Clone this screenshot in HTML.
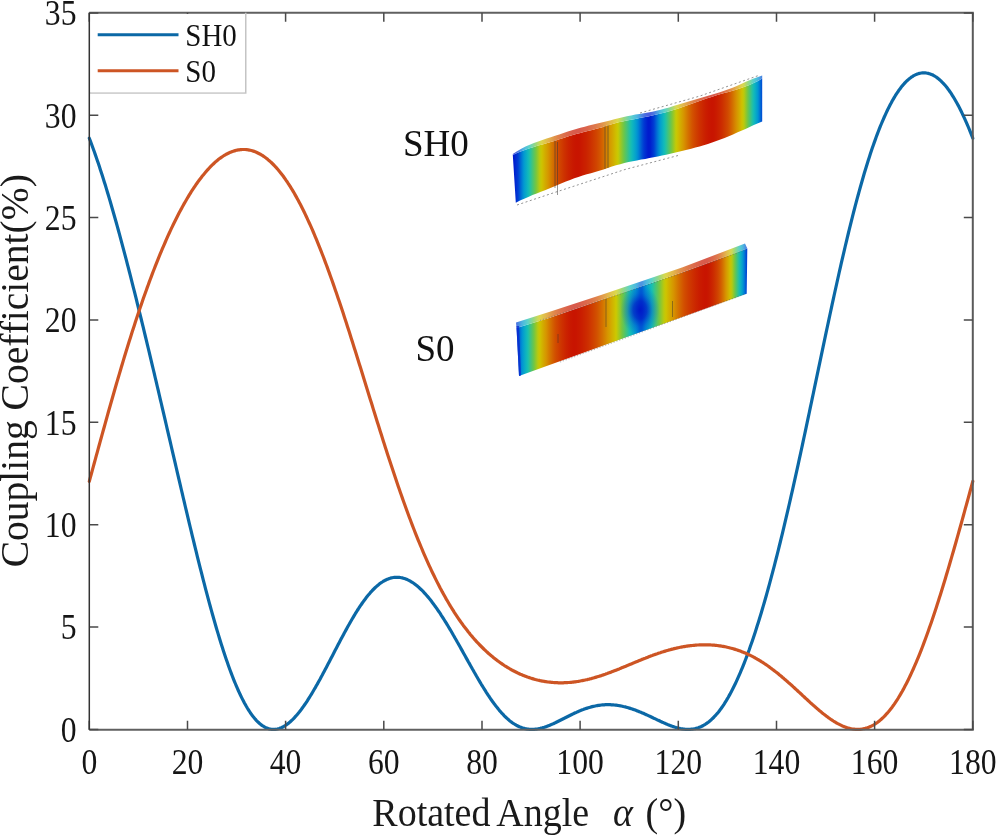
<!DOCTYPE html>
<html><head><meta charset="utf-8"><style>
html,body{margin:0;padding:0;background:#fff;width:997px;height:836px;overflow:hidden;position:relative;font-family:"Liberation Serif",serif}
svg{will-change:transform}
</style></head><body>
<svg width="997" height="836" viewBox="0 0 997 836" style="position:absolute;left:0;top:0">
<rect width="997" height="836" fill="#fff"/>
<defs>
<linearGradient id="gsh0" gradientUnits="userSpaceOnUse" x1="512.0" y1="0" x2="763.0" y2="0"><stop offset="0.0000" stop-color="#0014cd"/><stop offset="0.0080" stop-color="#001cce"/><stop offset="0.0159" stop-color="#002dd1"/><stop offset="0.0239" stop-color="#003dd4"/><stop offset="0.0319" stop-color="#005ed4"/><stop offset="0.0398" stop-color="#007ed4"/><stop offset="0.0478" stop-color="#029ad1"/><stop offset="0.0558" stop-color="#09a9c6"/><stop offset="0.0637" stop-color="#10b8bc"/><stop offset="0.0717" stop-color="#22c1a5"/><stop offset="0.0797" stop-color="#3ec382"/><stop offset="0.0876" stop-color="#5ac55f"/><stop offset="0.0956" stop-color="#77c63f"/><stop offset="0.1036" stop-color="#9bc825"/><stop offset="0.1116" stop-color="#bec90b"/><stop offset="0.1195" stop-color="#cec200"/><stop offset="0.1275" stop-color="#d1b300"/><stop offset="0.1355" stop-color="#d3a500"/><stop offset="0.1434" stop-color="#d69700"/><stop offset="0.1514" stop-color="#d58700"/><stop offset="0.1594" stop-color="#d47700"/><stop offset="0.1673" stop-color="#d36800"/><stop offset="0.1753" stop-color="#d35a00"/><stop offset="0.1833" stop-color="#d24d00"/><stop offset="0.1912" stop-color="#d04400"/><stop offset="0.1992" stop-color="#cf3b00"/><stop offset="0.2072" stop-color="#cd3300"/><stop offset="0.2151" stop-color="#cc2c00"/><stop offset="0.2231" stop-color="#cb2500"/><stop offset="0.2311" stop-color="#ca2000"/><stop offset="0.2390" stop-color="#c91b00"/><stop offset="0.2470" stop-color="#c81700"/><stop offset="0.2550" stop-color="#c81500"/><stop offset="0.2629" stop-color="#c81400"/><stop offset="0.2709" stop-color="#c81600"/><stop offset="0.2789" stop-color="#c91a00"/><stop offset="0.2869" stop-color="#ca1e00"/><stop offset="0.2948" stop-color="#ca2200"/><stop offset="0.3028" stop-color="#cb2800"/><stop offset="0.3108" stop-color="#cc2e00"/><stop offset="0.3187" stop-color="#cd3500"/><stop offset="0.3267" stop-color="#cf3c00"/><stop offset="0.3347" stop-color="#d04300"/><stop offset="0.3426" stop-color="#d14c00"/><stop offset="0.3506" stop-color="#d25600"/><stop offset="0.3586" stop-color="#d36200"/><stop offset="0.3665" stop-color="#d46f00"/><stop offset="0.3745" stop-color="#d57d00"/><stop offset="0.3825" stop-color="#d58b00"/><stop offset="0.3904" stop-color="#d59900"/><stop offset="0.3984" stop-color="#d3a500"/><stop offset="0.4064" stop-color="#d1b200"/><stop offset="0.4143" stop-color="#cfbf00"/><stop offset="0.4223" stop-color="#c7ca04"/><stop offset="0.4303" stop-color="#a9c81b"/><stop offset="0.4382" stop-color="#89c732"/><stop offset="0.4462" stop-color="#6ac64b"/><stop offset="0.4542" stop-color="#52c469"/><stop offset="0.4622" stop-color="#39c287"/><stop offset="0.4701" stop-color="#20c1a7"/><stop offset="0.4781" stop-color="#11b9bb"/><stop offset="0.4861" stop-color="#0aacc5"/><stop offset="0.4940" stop-color="#049ece"/><stop offset="0.5020" stop-color="#008ad4"/><stop offset="0.5100" stop-color="#006ed4"/><stop offset="0.5179" stop-color="#0051d4"/><stop offset="0.5259" stop-color="#0038d3"/><stop offset="0.5339" stop-color="#002ad1"/><stop offset="0.5418" stop-color="#001bce"/><stop offset="0.5498" stop-color="#001cce"/><stop offset="0.5578" stop-color="#002dd1"/><stop offset="0.5657" stop-color="#003fd4"/><stop offset="0.5737" stop-color="#0060d4"/><stop offset="0.5817" stop-color="#0080d4"/><stop offset="0.5896" stop-color="#029bd0"/><stop offset="0.5976" stop-color="#0aabc5"/><stop offset="0.6056" stop-color="#11baba"/><stop offset="0.6135" stop-color="#26c1a0"/><stop offset="0.6215" stop-color="#42c37c"/><stop offset="0.6295" stop-color="#5ec55a"/><stop offset="0.6375" stop-color="#7ec73a"/><stop offset="0.6454" stop-color="#a2c820"/><stop offset="0.6534" stop-color="#c5ca06"/><stop offset="0.6614" stop-color="#cfbe00"/><stop offset="0.6693" stop-color="#d2af00"/><stop offset="0.6773" stop-color="#d4a100"/><stop offset="0.6853" stop-color="#d69200"/><stop offset="0.6932" stop-color="#d58200"/><stop offset="0.7012" stop-color="#d47200"/><stop offset="0.7092" stop-color="#d36300"/><stop offset="0.7171" stop-color="#d25500"/><stop offset="0.7251" stop-color="#d14a00"/><stop offset="0.7331" stop-color="#cf4100"/><stop offset="0.7410" stop-color="#ce3800"/><stop offset="0.7490" stop-color="#cd3000"/><stop offset="0.7570" stop-color="#cc2900"/><stop offset="0.7649" stop-color="#ca2300"/><stop offset="0.7729" stop-color="#ca1d00"/><stop offset="0.7809" stop-color="#c91900"/><stop offset="0.7888" stop-color="#c81600"/><stop offset="0.7968" stop-color="#c81400"/><stop offset="0.8048" stop-color="#c81600"/><stop offset="0.8127" stop-color="#c91a00"/><stop offset="0.8207" stop-color="#ca2000"/><stop offset="0.8287" stop-color="#cb2600"/><stop offset="0.8367" stop-color="#cc2e00"/><stop offset="0.8446" stop-color="#ce3700"/><stop offset="0.8526" stop-color="#cf4100"/><stop offset="0.8606" stop-color="#d14b00"/><stop offset="0.8685" stop-color="#d35900"/><stop offset="0.8765" stop-color="#d36a00"/><stop offset="0.8845" stop-color="#d47c00"/><stop offset="0.8924" stop-color="#d68e00"/><stop offset="0.9004" stop-color="#d49f00"/><stop offset="0.9084" stop-color="#d2b000"/><stop offset="0.9163" stop-color="#cfc100"/><stop offset="0.9243" stop-color="#bac90e"/><stop offset="0.9323" stop-color="#91c72c"/><stop offset="0.9402" stop-color="#69c64d"/><stop offset="0.9482" stop-color="#49c474"/><stop offset="0.9562" stop-color="#28c19d"/><stop offset="0.9641" stop-color="#11b9bb"/><stop offset="0.9721" stop-color="#08a8c7"/><stop offset="0.9801" stop-color="#0095d4"/><stop offset="0.9880" stop-color="#0070d4"/><stop offset="0.9960" stop-color="#004bd4"/></linearGradient>
<linearGradient id="gsh0t" gradientUnits="userSpaceOnUse" x1="512.0" y1="0" x2="763.0" y2="0"><stop offset="0.0000" stop-color="#4c5adc"/><stop offset="0.0080" stop-color="#4c60dd"/><stop offset="0.0159" stop-color="#4c6cdf"/><stop offset="0.0239" stop-color="#4c77e1"/><stop offset="0.0319" stop-color="#4c8ee1"/><stop offset="0.0398" stop-color="#4ca5e1"/><stop offset="0.0478" stop-color="#4eb8df"/><stop offset="0.0558" stop-color="#53c3d7"/><stop offset="0.0637" stop-color="#58cdd0"/><stop offset="0.0717" stop-color="#64d4c0"/><stop offset="0.0797" stop-color="#78d5a8"/><stop offset="0.0876" stop-color="#8cd68f"/><stop offset="0.0956" stop-color="#a0d779"/><stop offset="0.1036" stop-color="#b9d866"/><stop offset="0.1116" stop-color="#d2d954"/><stop offset="0.1195" stop-color="#ddd44c"/><stop offset="0.1275" stop-color="#dfca4c"/><stop offset="0.1355" stop-color="#e0c04c"/><stop offset="0.1434" stop-color="#e2b64c"/><stop offset="0.1514" stop-color="#e2ab4c"/><stop offset="0.1594" stop-color="#e1a04c"/><stop offset="0.1673" stop-color="#e0954c"/><stop offset="0.1753" stop-color="#e08c4c"/><stop offset="0.1833" stop-color="#e0824c"/><stop offset="0.1912" stop-color="#de7c4c"/><stop offset="0.1992" stop-color="#dd764c"/><stop offset="0.2072" stop-color="#dc704c"/><stop offset="0.2151" stop-color="#db6b4c"/><stop offset="0.2231" stop-color="#db664c"/><stop offset="0.2311" stop-color="#da634c"/><stop offset="0.2390" stop-color="#d95f4c"/><stop offset="0.2470" stop-color="#d85d4c"/><stop offset="0.2550" stop-color="#d85b4c"/><stop offset="0.2629" stop-color="#d85a4c"/><stop offset="0.2709" stop-color="#d85c4c"/><stop offset="0.2789" stop-color="#d95f4c"/><stop offset="0.2869" stop-color="#da624c"/><stop offset="0.2948" stop-color="#da644c"/><stop offset="0.3028" stop-color="#db684c"/><stop offset="0.3108" stop-color="#db6d4c"/><stop offset="0.3187" stop-color="#dc724c"/><stop offset="0.3267" stop-color="#dd764c"/><stop offset="0.3347" stop-color="#de7b4c"/><stop offset="0.3426" stop-color="#df824c"/><stop offset="0.3506" stop-color="#e0894c"/><stop offset="0.3586" stop-color="#e0914c"/><stop offset="0.3665" stop-color="#e19a4c"/><stop offset="0.3745" stop-color="#e2a44c"/><stop offset="0.3825" stop-color="#e2ae4c"/><stop offset="0.3904" stop-color="#e2b84c"/><stop offset="0.3984" stop-color="#e0c04c"/><stop offset="0.4064" stop-color="#dfc94c"/><stop offset="0.4143" stop-color="#ddd24c"/><stop offset="0.4223" stop-color="#d8da4f"/><stop offset="0.4303" stop-color="#c3d85f"/><stop offset="0.4382" stop-color="#acd870"/><stop offset="0.4462" stop-color="#97d781"/><stop offset="0.4542" stop-color="#86d696"/><stop offset="0.4622" stop-color="#74d4ab"/><stop offset="0.4701" stop-color="#63d4c1"/><stop offset="0.4781" stop-color="#58cecf"/><stop offset="0.4861" stop-color="#54c5d6"/><stop offset="0.4940" stop-color="#4fbbdd"/><stop offset="0.5020" stop-color="#4cade1"/><stop offset="0.5100" stop-color="#4c9ae1"/><stop offset="0.5179" stop-color="#4c85e1"/><stop offset="0.5259" stop-color="#4c74e0"/><stop offset="0.5339" stop-color="#4c6adf"/><stop offset="0.5418" stop-color="#4c5fdd"/><stop offset="0.5498" stop-color="#4c60dd"/><stop offset="0.5578" stop-color="#4c6cdf"/><stop offset="0.5657" stop-color="#4c79e1"/><stop offset="0.5737" stop-color="#4c90e1"/><stop offset="0.5817" stop-color="#4ca6e1"/><stop offset="0.5896" stop-color="#4eb9de"/><stop offset="0.5976" stop-color="#54c4d6"/><stop offset="0.6056" stop-color="#58cfcf"/><stop offset="0.6135" stop-color="#67d4bc"/><stop offset="0.6215" stop-color="#7bd5a3"/><stop offset="0.6295" stop-color="#8ed68c"/><stop offset="0.6375" stop-color="#a5d875"/><stop offset="0.6454" stop-color="#bed863"/><stop offset="0.6534" stop-color="#d6da51"/><stop offset="0.6614" stop-color="#ddd24c"/><stop offset="0.6693" stop-color="#e0c74c"/><stop offset="0.6773" stop-color="#e1bd4c"/><stop offset="0.6853" stop-color="#e2b34c"/><stop offset="0.6932" stop-color="#e2a84c"/><stop offset="0.7012" stop-color="#e19c4c"/><stop offset="0.7092" stop-color="#e0924c"/><stop offset="0.7171" stop-color="#e0884c"/><stop offset="0.7251" stop-color="#df804c"/><stop offset="0.7331" stop-color="#dd7a4c"/><stop offset="0.7410" stop-color="#dd744c"/><stop offset="0.7490" stop-color="#dc6e4c"/><stop offset="0.7570" stop-color="#db694c"/><stop offset="0.7649" stop-color="#da654c"/><stop offset="0.7729" stop-color="#da614c"/><stop offset="0.7809" stop-color="#d95e4c"/><stop offset="0.7888" stop-color="#d85c4c"/><stop offset="0.7968" stop-color="#d85a4c"/><stop offset="0.8048" stop-color="#d85c4c"/><stop offset="0.8127" stop-color="#d95f4c"/><stop offset="0.8207" stop-color="#da634c"/><stop offset="0.8287" stop-color="#db674c"/><stop offset="0.8367" stop-color="#db6d4c"/><stop offset="0.8446" stop-color="#dd734c"/><stop offset="0.8526" stop-color="#dd7a4c"/><stop offset="0.8606" stop-color="#df814c"/><stop offset="0.8685" stop-color="#e08b4c"/><stop offset="0.8765" stop-color="#e0974c"/><stop offset="0.8845" stop-color="#e1a34c"/><stop offset="0.8924" stop-color="#e2b04c"/><stop offset="0.9004" stop-color="#e1bc4c"/><stop offset="0.9084" stop-color="#e0c84c"/><stop offset="0.9163" stop-color="#ddd44c"/><stop offset="0.9243" stop-color="#cfd956"/><stop offset="0.9323" stop-color="#b2d86b"/><stop offset="0.9402" stop-color="#96d782"/><stop offset="0.9482" stop-color="#80d69e"/><stop offset="0.9562" stop-color="#68d4ba"/><stop offset="0.9641" stop-color="#58cecf"/><stop offset="0.9721" stop-color="#52c2d8"/><stop offset="0.9801" stop-color="#4cb5e1"/><stop offset="0.9880" stop-color="#4c9be1"/><stop offset="0.9960" stop-color="#4c81e1"/></linearGradient>
<linearGradient id="gs0" gradientUnits="userSpaceOnUse" x1="516.0" y1="0" x2="749.0" y2="0"><stop offset="0.0000" stop-color="#0035d3"/><stop offset="0.0086" stop-color="#0050d4"/><stop offset="0.0172" stop-color="#0071d4"/><stop offset="0.0258" stop-color="#0092d4"/><stop offset="0.0343" stop-color="#07a4ca"/><stop offset="0.0429" stop-color="#0eb4bf"/><stop offset="0.0515" stop-color="#1ac0ae"/><stop offset="0.0601" stop-color="#38c28a"/><stop offset="0.0687" stop-color="#54c466"/><stop offset="0.0773" stop-color="#71c644"/><stop offset="0.0858" stop-color="#96c828"/><stop offset="0.0944" stop-color="#bac90e"/><stop offset="0.1030" stop-color="#cec300"/><stop offset="0.1116" stop-color="#d1b300"/><stop offset="0.1202" stop-color="#d3a400"/><stop offset="0.1288" stop-color="#d69600"/><stop offset="0.1373" stop-color="#d58500"/><stop offset="0.1459" stop-color="#d47500"/><stop offset="0.1545" stop-color="#d36600"/><stop offset="0.1631" stop-color="#d25700"/><stop offset="0.1717" stop-color="#d14b00"/><stop offset="0.1803" stop-color="#d04200"/><stop offset="0.1888" stop-color="#ce3900"/><stop offset="0.1974" stop-color="#cd3100"/><stop offset="0.2060" stop-color="#cc2a00"/><stop offset="0.2146" stop-color="#cb2300"/><stop offset="0.2232" stop-color="#ca1e00"/><stop offset="0.2318" stop-color="#c91900"/><stop offset="0.2403" stop-color="#c81600"/><stop offset="0.2489" stop-color="#c81400"/><stop offset="0.2575" stop-color="#c81500"/><stop offset="0.2661" stop-color="#c91800"/><stop offset="0.2747" stop-color="#c91b00"/><stop offset="0.2833" stop-color="#ca1f00"/><stop offset="0.2918" stop-color="#cb2400"/><stop offset="0.3004" stop-color="#cc2900"/><stop offset="0.3090" stop-color="#cd2f00"/><stop offset="0.3176" stop-color="#ce3600"/><stop offset="0.3262" stop-color="#cf3d00"/><stop offset="0.3348" stop-color="#d04500"/><stop offset="0.3433" stop-color="#d14d00"/><stop offset="0.3519" stop-color="#d25700"/><stop offset="0.3605" stop-color="#d36300"/><stop offset="0.3691" stop-color="#d46f00"/><stop offset="0.3777" stop-color="#d57c00"/><stop offset="0.3863" stop-color="#d58a00"/><stop offset="0.3948" stop-color="#d69800"/><stop offset="0.4034" stop-color="#d4a300"/><stop offset="0.4120" stop-color="#d2b000"/><stop offset="0.4206" stop-color="#cfbc00"/><stop offset="0.4292" stop-color="#cdc900"/><stop offset="0.4378" stop-color="#b2c914"/><stop offset="0.4464" stop-color="#94c82a"/><stop offset="0.4549" stop-color="#75c641"/><stop offset="0.4635" stop-color="#5cc55c"/><stop offset="0.4721" stop-color="#44c37a"/><stop offset="0.4807" stop-color="#2cc298"/><stop offset="0.4893" stop-color="#14c0b6"/><stop offset="0.4979" stop-color="#0eb3bf"/><stop offset="0.5064" stop-color="#08a6c9"/><stop offset="0.5150" stop-color="#0199d2"/><stop offset="0.5236" stop-color="#0081d4"/><stop offset="0.5322" stop-color="#0066d4"/><stop offset="0.5408" stop-color="#0066d4"/><stop offset="0.5494" stop-color="#0082d4"/><stop offset="0.5579" stop-color="#029ad1"/><stop offset="0.5665" stop-color="#08a7c8"/><stop offset="0.5751" stop-color="#0fb5be"/><stop offset="0.5837" stop-color="#18c0b1"/><stop offset="0.5923" stop-color="#31c292"/><stop offset="0.6009" stop-color="#4ac473"/><stop offset="0.6094" stop-color="#62c555"/><stop offset="0.6180" stop-color="#7ec73a"/><stop offset="0.6266" stop-color="#9ec823"/><stop offset="0.6352" stop-color="#bcc90c"/><stop offset="0.6438" stop-color="#cec400"/><stop offset="0.6524" stop-color="#d0b700"/><stop offset="0.6609" stop-color="#d3aa00"/><stop offset="0.6695" stop-color="#d59e00"/><stop offset="0.6781" stop-color="#d69100"/><stop offset="0.6867" stop-color="#d58300"/><stop offset="0.6953" stop-color="#d47500"/><stop offset="0.7039" stop-color="#d36800"/><stop offset="0.7124" stop-color="#d35b00"/><stop offset="0.7210" stop-color="#d24f00"/><stop offset="0.7296" stop-color="#d04700"/><stop offset="0.7382" stop-color="#cf3f00"/><stop offset="0.7468" stop-color="#ce3800"/><stop offset="0.7554" stop-color="#cd3100"/><stop offset="0.7639" stop-color="#cc2b00"/><stop offset="0.7725" stop-color="#cb2500"/><stop offset="0.7811" stop-color="#ca2000"/><stop offset="0.7897" stop-color="#c91b00"/><stop offset="0.7983" stop-color="#c91800"/><stop offset="0.8069" stop-color="#c81500"/><stop offset="0.8155" stop-color="#c81400"/><stop offset="0.8240" stop-color="#c81700"/><stop offset="0.8326" stop-color="#c91d00"/><stop offset="0.8412" stop-color="#cb2400"/><stop offset="0.8498" stop-color="#cc2e00"/><stop offset="0.8584" stop-color="#ce3900"/><stop offset="0.8670" stop-color="#d04500"/><stop offset="0.8755" stop-color="#d25400"/><stop offset="0.8841" stop-color="#d36800"/><stop offset="0.8927" stop-color="#d57e00"/><stop offset="0.9013" stop-color="#d69600"/><stop offset="0.9099" stop-color="#d3aa00"/><stop offset="0.9185" stop-color="#cfbf00"/><stop offset="0.9270" stop-color="#b5c911"/><stop offset="0.9356" stop-color="#83c737"/><stop offset="0.9442" stop-color="#56c463"/><stop offset="0.9528" stop-color="#2ec295"/><stop offset="0.9614" stop-color="#10b8bc"/><stop offset="0.9700" stop-color="#06a2cb"/><stop offset="0.9785" stop-color="#0082d4"/><stop offset="0.9871" stop-color="#0053d4"/><stop offset="0.9957" stop-color="#0030d2"/></linearGradient>
<linearGradient id="gs0t" gradientUnits="userSpaceOnUse" x1="516.0" y1="0" x2="749.0" y2="0"><stop offset="0.0000" stop-color="#4c72e0"/><stop offset="0.0086" stop-color="#4c84e1"/><stop offset="0.0172" stop-color="#4c9ce1"/><stop offset="0.0258" stop-color="#4cb3e1"/><stop offset="0.0343" stop-color="#51bfda"/><stop offset="0.0429" stop-color="#56cad2"/><stop offset="0.0515" stop-color="#5fd3c6"/><stop offset="0.0601" stop-color="#74d4ad"/><stop offset="0.0687" stop-color="#87d694"/><stop offset="0.0773" stop-color="#9cd77c"/><stop offset="0.0858" stop-color="#b6d868"/><stop offset="0.0944" stop-color="#cfd956"/><stop offset="0.1030" stop-color="#ddd54c"/><stop offset="0.1116" stop-color="#dfca4c"/><stop offset="0.1202" stop-color="#e0bf4c"/><stop offset="0.1288" stop-color="#e2b64c"/><stop offset="0.1373" stop-color="#e2aa4c"/><stop offset="0.1459" stop-color="#e19e4c"/><stop offset="0.1545" stop-color="#e0944c"/><stop offset="0.1631" stop-color="#e0894c"/><stop offset="0.1717" stop-color="#df814c"/><stop offset="0.1803" stop-color="#de7b4c"/><stop offset="0.1888" stop-color="#dd744c"/><stop offset="0.1974" stop-color="#dc6f4c"/><stop offset="0.2060" stop-color="#db6a4c"/><stop offset="0.2146" stop-color="#db654c"/><stop offset="0.2232" stop-color="#da624c"/><stop offset="0.2318" stop-color="#d95e4c"/><stop offset="0.2403" stop-color="#d85c4c"/><stop offset="0.2489" stop-color="#d85a4c"/><stop offset="0.2575" stop-color="#d85b4c"/><stop offset="0.2661" stop-color="#d95d4c"/><stop offset="0.2747" stop-color="#d95f4c"/><stop offset="0.2833" stop-color="#da624c"/><stop offset="0.2918" stop-color="#db664c"/><stop offset="0.3004" stop-color="#db694c"/><stop offset="0.3090" stop-color="#dc6d4c"/><stop offset="0.3176" stop-color="#dd724c"/><stop offset="0.3262" stop-color="#dd774c"/><stop offset="0.3348" stop-color="#de7d4c"/><stop offset="0.3433" stop-color="#df824c"/><stop offset="0.3519" stop-color="#e0894c"/><stop offset="0.3605" stop-color="#e0924c"/><stop offset="0.3691" stop-color="#e19a4c"/><stop offset="0.3777" stop-color="#e2a34c"/><stop offset="0.3863" stop-color="#e2ad4c"/><stop offset="0.3948" stop-color="#e2b74c"/><stop offset="0.4034" stop-color="#e1bf4c"/><stop offset="0.4120" stop-color="#e0c84c"/><stop offset="0.4206" stop-color="#ddd04c"/><stop offset="0.4292" stop-color="#dcd94c"/><stop offset="0.4378" stop-color="#c9d95a"/><stop offset="0.4464" stop-color="#b4d86a"/><stop offset="0.4549" stop-color="#9ed77a"/><stop offset="0.4635" stop-color="#8dd68d"/><stop offset="0.4721" stop-color="#7cd5a2"/><stop offset="0.4807" stop-color="#6bd4b7"/><stop offset="0.4893" stop-color="#5ad3cc"/><stop offset="0.4979" stop-color="#56cad2"/><stop offset="0.5064" stop-color="#52c1d9"/><stop offset="0.5150" stop-color="#4db8e0"/><stop offset="0.5236" stop-color="#4ca7e1"/><stop offset="0.5322" stop-color="#4c94e1"/><stop offset="0.5408" stop-color="#4c94e1"/><stop offset="0.5494" stop-color="#4ca8e1"/><stop offset="0.5579" stop-color="#4eb8df"/><stop offset="0.5665" stop-color="#52c1d8"/><stop offset="0.5751" stop-color="#57cbd2"/><stop offset="0.5837" stop-color="#5dd3c8"/><stop offset="0.5923" stop-color="#6fd4b3"/><stop offset="0.6009" stop-color="#80d69d"/><stop offset="0.6094" stop-color="#91d688"/><stop offset="0.6180" stop-color="#a5d875"/><stop offset="0.6266" stop-color="#bbd865"/><stop offset="0.6352" stop-color="#d0d955"/><stop offset="0.6438" stop-color="#ddd64c"/><stop offset="0.6524" stop-color="#decd4c"/><stop offset="0.6609" stop-color="#e0c44c"/><stop offset="0.6695" stop-color="#e2bb4c"/><stop offset="0.6781" stop-color="#e2b24c"/><stop offset="0.6867" stop-color="#e2a84c"/><stop offset="0.6953" stop-color="#e19e4c"/><stop offset="0.7039" stop-color="#e0954c"/><stop offset="0.7124" stop-color="#e08c4c"/><stop offset="0.7210" stop-color="#e0844c"/><stop offset="0.7296" stop-color="#de7e4c"/><stop offset="0.7382" stop-color="#dd794c"/><stop offset="0.7468" stop-color="#dd744c"/><stop offset="0.7554" stop-color="#dc6f4c"/><stop offset="0.7639" stop-color="#db6b4c"/><stop offset="0.7725" stop-color="#db664c"/><stop offset="0.7811" stop-color="#da634c"/><stop offset="0.7897" stop-color="#d95f4c"/><stop offset="0.7983" stop-color="#d95d4c"/><stop offset="0.8069" stop-color="#d85b4c"/><stop offset="0.8155" stop-color="#d85a4c"/><stop offset="0.8240" stop-color="#d85d4c"/><stop offset="0.8326" stop-color="#d9614c"/><stop offset="0.8412" stop-color="#db664c"/><stop offset="0.8498" stop-color="#db6d4c"/><stop offset="0.8584" stop-color="#dd744c"/><stop offset="0.8670" stop-color="#de7d4c"/><stop offset="0.8755" stop-color="#e0874c"/><stop offset="0.8841" stop-color="#e0954c"/><stop offset="0.8927" stop-color="#e2a54c"/><stop offset="0.9013" stop-color="#e2b64c"/><stop offset="0.9099" stop-color="#e0c44c"/><stop offset="0.9185" stop-color="#ddd24c"/><stop offset="0.9270" stop-color="#cbd958"/><stop offset="0.9356" stop-color="#a8d873"/><stop offset="0.9442" stop-color="#89d692"/><stop offset="0.9528" stop-color="#6dd4b5"/><stop offset="0.9614" stop-color="#58cdd0"/><stop offset="0.9700" stop-color="#51bedb"/><stop offset="0.9785" stop-color="#4ca8e1"/><stop offset="0.9871" stop-color="#4c87e1"/><stop offset="0.9957" stop-color="#4c6ee0"/></linearGradient>
<radialGradient id="blob" gradientUnits="userSpaceOnUse" cx="640" cy="310" r="26" gradientTransform="translate(640 310) scale(0.75 1) translate(-640 -310)"><stop offset="0" stop-color="#0014c8" stop-opacity="0.95"/><stop offset="0.35" stop-color="#0014c8" stop-opacity="0.7"/><stop offset="0.65" stop-color="#0030d0" stop-opacity="0.3"/><stop offset="1" stop-color="#0040d0" stop-opacity="0"/></radialGradient>
</defs>
<path d="M512.8 155.1 L517.0 153.1 L521.3 151.3 L525.5 149.7 L529.7 148.3 L533.9 146.9 L538.2 145.6 L542.4 144.4 L546.6 143.2 L550.8 142.0 L555.1 140.7 L559.3 139.3 L563.5 137.9 L567.8 136.6 L572.0 135.3 L576.2 134.0 L580.4 132.9 L584.7 131.8 L588.9 130.8 L593.1 129.7 L597.3 128.6 L601.6 127.4 L605.8 126.1 L610.0 124.7 L614.3 123.4 L618.5 122.3 L622.7 121.4 L626.9 120.5 L631.2 119.7 L635.4 118.9 L639.6 118.1 L643.8 117.3 L648.1 116.5 L652.3 115.6 L656.5 114.6 L660.7 113.6 L665.0 112.5 L669.2 111.3 L673.4 110.0 L677.7 108.7 L681.9 107.3 L686.1 105.8 L690.3 104.3 L694.6 102.8 L698.8 101.3 L703.0 99.8 L707.2 98.3 L711.5 96.9 L715.7 95.6 L719.9 94.3 L724.2 93.1 L728.4 91.9 L732.6 90.7 L736.8 89.4 L741.1 88.1 L745.3 86.6 L749.5 85.0 L753.7 83.1 L758.0 81.0 L762.2 78.5 L762.2 121.4 L758.0 123.2 L753.8 125.1 L749.7 127.0 L745.5 128.9 L741.3 130.8 L737.1 132.6 L733.0 134.4 L728.8 136.2 L724.6 137.9 L720.4 139.6 L716.3 141.1 L712.1 142.6 L707.9 144.0 L703.7 145.3 L699.6 146.5 L695.4 147.6 L691.2 148.7 L687.0 149.8 L682.9 150.8 L678.7 151.8 L674.5 152.8 L670.3 153.8 L666.1 154.7 L662.0 155.6 L657.8 156.5 L653.6 157.3 L649.4 158.1 L645.3 158.9 L641.1 159.6 L636.9 160.4 L632.7 161.2 L628.6 162.1 L624.4 163.1 L620.2 164.2 L616.0 165.3 L611.9 166.6 L607.7 168.1 L603.5 169.5 L599.3 170.8 L595.1 172.0 L591.0 173.2 L586.8 174.3 L582.6 175.5 L578.4 176.9 L574.3 178.3 L570.1 179.9 L565.9 181.6 L561.7 183.3 L557.6 185.1 L553.4 186.8 L549.2 188.5 L545.0 190.2 L540.9 191.8 L536.7 193.5 L532.5 195.1 L528.3 196.9 L524.2 198.7 L520.0 200.6 L515.8 202.7 Z" fill="url(#gsh0)"/>
<path d="M512.8 155.1 L517.0 153.1 L521.3 151.3 L525.5 149.7 L529.7 148.3 L533.9 146.9 L538.2 145.6 L542.4 144.4 L546.6 143.2 L550.8 142.0 L555.1 140.7 L559.3 139.3 L563.5 137.9 L567.8 136.6 L572.0 135.3 L576.2 134.0 L580.4 132.9 L584.7 131.8 L588.9 130.8 L593.1 129.7 L597.3 128.6 L601.6 127.4 L605.8 126.1 L610.0 124.7 L614.3 123.4 L618.5 122.3 L622.7 121.4 L626.9 120.5 L631.2 119.7 L635.4 118.9 L639.6 118.1 L643.8 117.3 L648.1 116.5 L652.3 115.6 L656.5 114.6 L660.7 113.6 L665.0 112.5 L669.2 111.3 L673.4 110.0 L677.7 108.7 L681.9 107.3 L686.1 105.8 L690.3 104.3 L694.6 102.8 L698.8 101.3 L703.0 99.8 L707.2 98.3 L711.5 96.9 L715.7 95.6 L719.9 94.3 L724.2 93.1 L728.4 91.9 L732.6 90.7 L736.8 89.4 L741.1 88.1 L745.3 86.6 L749.5 85.0 L753.7 83.1 L758.0 81.0 L762.2 78.5 L762.2 75.5 L758.0 76.9 L753.7 78.4 L749.5 80.2 L745.3 82.1 L741.1 84.0 L736.8 85.9 L732.6 87.7 L728.4 89.3 L724.2 90.8 L719.9 92.2 L715.7 93.5 L711.5 94.8 L707.2 96.0 L703.0 97.2 L698.8 98.5 L694.6 99.7 L690.3 101.0 L686.1 102.2 L681.9 103.5 L677.7 104.8 L673.4 106.1 L669.2 107.4 L665.0 108.6 L660.7 109.8 L656.5 110.8 L652.3 111.7 L648.1 112.5 L643.8 113.2 L639.6 113.9 L635.4 114.6 L631.2 115.4 L626.9 116.3 L622.7 117.2 L618.5 118.3 L614.3 119.3 L610.0 120.4 L605.8 121.5 L601.6 122.5 L597.3 123.6 L593.1 124.6 L588.9 125.6 L584.7 126.7 L580.4 127.8 L576.2 129.0 L572.0 130.3 L567.8 131.6 L563.5 133.0 L559.3 134.4 L555.1 135.8 L550.8 137.2 L546.6 138.6 L542.4 139.9 L538.2 141.4 L533.9 143.0 L529.7 144.7 L525.5 146.6 L521.3 148.8 L517.0 151.2 L512.8 154.0 Z" fill="url(#gsh0t)"/>
<g stroke="#3a3a3a" fill="none">
<path d="M555 140.7 V188 M557.5 141.9 V195 M605 126.3 V169 M608 125.4 V168" stroke-width="0.9" stroke-opacity="0.6"/>
<path d="M517 205 L553 193 L625 169.5 L680 155" stroke-width="1" stroke-dasharray="2 2.5" stroke-opacity="0.55"/>
<path d="M640 113 L700 96 L760 75" stroke-width="1" stroke-dasharray="2 2.5" stroke-opacity="0.55"/>
</g>
<path d="M516.5 328 L549 318 L601 300 L682 272.5 L747.3 248.5 L746.7 293.7 L519 376 Z" fill="url(#gs0)"/>
<path d="M516.5 328 L549 318 L601 300 L682 272.5 L747.3 248.5 L745 243.5 L682 267.5 L601 295 L549 312 L516 322.5 Z" fill="url(#gs0t)"/>
<path d="M516.5 328 L549 318 L601 300 L682 272.5 L747.3 248.5 L746.7 293.7 L519 376 Z" fill="url(#blob)"/>
<path d="M516.5 326 L519 376 L521 375.5 L519 326 Z" fill="#0a2ad0" opacity="0.8"/>
<g stroke="#666" fill="none" stroke-width="1.2" stroke-opacity="0.45" stroke-dasharray="1.2 1.8">
<path d="M540 320.5 L601 300.5 L682 273 L745 250"/><path d="M560 362 L745 294"/>
</g>
<path d="M558 334 V343 M606 299 V327 M672.5 301 V317" stroke="#333" stroke-width="1" stroke-opacity="0.45"/>
<defs><clipPath id="ax"><rect x="86.3" y="9.9" width="889.5" height="722.5"/></clipPath></defs>
<g clip-path="url(#ax)" fill="none" stroke-width="3.2" stroke-linejoin="round" stroke-linecap="round">
<path d="M89.3 138.2 L90.3 140.8 L91.3 143.5 L92.3 146.2 L93.3 149.0 L94.3 151.8 L95.3 154.6 L96.3 157.5 L97.3 160.4 L98.3 163.3 L99.3 166.3 L100.3 169.4 L101.3 172.5 L102.3 175.6 L103.3 178.7 L104.3 181.9 L105.3 185.1 L106.3 188.4 L107.3 191.7 L108.3 195.0 L109.3 198.4 L110.3 201.8 L111.3 205.2 L112.3 208.7 L113.3 212.2 L114.3 215.7 L115.3 219.2 L116.3 222.8 L117.3 226.4 L118.3 230.0 L119.3 233.7 L120.3 237.4 L121.3 241.1 L122.3 244.8 L123.3 248.6 L124.3 252.3 L125.3 256.1 L126.3 259.9 L127.3 263.8 L128.3 267.7 L129.3 271.5 L130.3 275.4 L131.3 279.4 L132.3 283.3 L133.3 287.3 L134.3 291.2 L135.3 295.2 L136.3 299.2 L137.3 303.3 L138.3 307.3 L139.3 311.4 L140.3 315.4 L141.3 319.5 L142.3 323.6 L143.3 327.7 L144.3 331.9 L145.3 336.0 L146.3 340.1 L147.3 344.3 L148.3 348.5 L149.3 352.7 L150.3 356.9 L151.3 361.1 L152.3 365.3 L153.3 369.5 L154.3 373.7 L155.3 378.0 L156.3 382.2 L157.3 386.5 L158.3 390.7 L159.3 395.0 L160.3 399.3 L161.3 403.5 L162.3 407.8 L163.3 412.1 L164.3 416.4 L165.3 420.7 L166.3 425.0 L167.3 429.3 L168.3 433.6 L169.3 437.9 L170.3 442.2 L171.3 446.5 L172.3 450.8 L173.3 455.1 L174.3 459.4 L175.3 463.7 L176.3 468.0 L177.3 472.3 L178.3 476.6 L179.3 480.9 L180.3 485.2 L181.3 489.5 L182.3 493.7 L183.3 498.0 L184.3 502.2 L185.3 506.5 L186.3 510.7 L187.3 514.9 L188.3 519.1 L189.3 523.3 L190.3 527.5 L191.3 531.7 L192.3 535.8 L193.3 539.9 L194.3 544.0 L195.3 548.1 L196.3 552.2 L197.3 556.3 L198.3 560.3 L199.3 564.3 L200.3 568.3 L201.3 572.2 L202.3 576.2 L203.3 580.1 L204.3 583.9 L205.3 587.8 L206.3 591.6 L207.3 595.3 L208.3 599.1 L209.3 602.8 L210.3 606.5 L211.3 610.1 L212.3 613.7 L213.3 617.3 L214.3 620.8 L215.3 624.2 L216.3 627.7 L217.3 631.1 L218.3 634.4 L219.3 637.7 L220.3 641.0 L221.3 644.2 L222.3 647.3 L223.3 650.4 L224.3 653.5 L225.3 656.5 L226.3 659.4 L227.3 662.3 L228.3 665.2 L229.3 668.0 L230.3 670.7 L231.3 673.4 L232.3 676.0 L233.3 678.6 L234.3 681.1 L235.3 683.5 L236.3 685.9 L237.3 688.2 L238.3 690.5 L239.3 692.7 L240.3 694.8 L241.3 696.9 L242.3 698.9 L243.3 700.8 L244.3 702.7 L245.3 704.5 L246.3 706.3 L247.3 708.0 L248.3 709.6 L249.3 711.2 L250.3 712.7 L251.3 714.1 L252.3 715.5 L253.3 716.8 L254.3 718.0 L255.3 719.2 L256.3 720.3 L257.3 721.3 L258.3 722.3 L259.3 723.2 L260.3 724.1 L261.3 724.9 L262.3 725.6 L263.3 726.2 L264.3 726.8 L265.3 727.4 L266.3 727.8 L267.3 728.2 L268.3 728.6 L269.3 728.9 L270.3 729.1 L271.3 729.3 L272.3 729.4 L273.3 729.4 L274.3 729.4 L275.3 729.3 L276.3 729.2 L277.3 729.0 L278.3 728.7 L279.3 728.5 L280.3 728.1 L281.3 727.7 L282.3 727.2 L283.3 726.7 L284.3 726.1 L285.3 725.5 L286.3 724.9 L287.3 724.1 L288.3 723.4 L289.3 722.6 L290.3 721.7 L291.3 720.8 L292.3 719.9 L293.3 718.9 L294.3 717.8 L295.3 716.7 L296.3 715.6 L297.3 714.4 L298.3 713.2 L299.3 712.0 L300.3 710.7 L301.3 709.4 L302.3 708.0 L303.3 706.6 L304.3 705.2 L305.3 703.8 L306.3 702.3 L307.3 700.8 L308.3 699.2 L309.3 697.6 L310.3 696.0 L311.3 694.4 L312.3 692.7 L313.3 691.0 L314.3 689.3 L315.3 687.6 L316.3 685.8 L317.3 684.1 L318.3 682.3 L319.3 680.5 L320.3 678.7 L321.3 676.8 L322.3 675.0 L323.3 673.1 L324.3 671.2 L325.3 669.3 L326.3 667.4 L327.3 665.5 L328.3 663.6 L329.3 661.7 L330.3 659.8 L331.3 657.8 L332.3 655.9 L333.3 654.0 L334.3 652.0 L335.3 650.1 L336.3 648.2 L337.3 646.3 L338.3 644.3 L339.3 642.4 L340.3 640.5 L341.3 638.6 L342.3 636.8 L343.3 634.9 L344.3 633.0 L345.3 631.2 L346.3 629.4 L347.3 627.5 L348.3 625.7 L349.3 624.0 L350.3 622.2 L351.3 620.5 L352.3 618.8 L353.3 617.1 L354.3 615.4 L355.3 613.7 L356.3 612.1 L357.3 610.5 L358.3 609.0 L359.3 607.4 L360.3 605.9 L361.3 604.5 L362.3 603.0 L363.3 601.6 L364.3 600.2 L365.3 598.9 L366.3 597.6 L367.3 596.3 L368.3 595.1 L369.3 593.9 L370.3 592.7 L371.3 591.6 L372.3 590.5 L373.3 589.5 L374.3 588.5 L375.3 587.5 L376.3 586.6 L377.3 585.7 L378.3 584.9 L379.3 584.1 L380.3 583.3 L381.3 582.6 L382.3 582.0 L383.3 581.3 L384.3 580.8 L385.3 580.2 L386.3 579.7 L387.3 579.3 L388.3 578.9 L389.3 578.5 L390.3 578.2 L391.3 577.9 L392.3 577.7 L393.3 577.5 L394.3 577.4 L395.3 577.3 L396.3 577.3 L397.3 577.3 L398.3 577.3 L399.3 577.4 L400.3 577.5 L401.3 577.7 L402.3 577.9 L403.3 578.2 L404.3 578.5 L405.3 578.8 L406.3 579.2 L407.3 579.6 L408.3 580.1 L409.3 580.6 L410.3 581.2 L411.3 581.8 L412.3 582.4 L413.3 583.0 L414.3 583.7 L415.3 584.5 L416.3 585.3 L417.3 586.1 L418.3 586.9 L419.3 587.8 L420.3 588.8 L421.3 589.7 L422.3 590.7 L423.3 591.7 L424.3 592.8 L425.3 593.9 L426.3 595.0 L427.3 596.2 L428.3 597.3 L429.3 598.6 L430.3 599.8 L431.3 601.1 L432.3 602.4 L433.3 603.7 L434.3 605.1 L435.3 606.5 L436.3 607.9 L437.3 609.3 L438.3 610.8 L439.3 612.2 L440.3 613.7 L441.3 615.3 L442.3 616.8 L443.3 618.4 L444.3 620.0 L445.3 621.6 L446.3 623.2 L447.3 624.8 L448.3 626.5 L449.3 628.2 L450.3 629.8 L451.3 631.5 L452.3 633.2 L453.3 635.0 L454.3 636.7 L455.3 638.5 L456.3 640.2 L457.3 642.0 L458.3 643.7 L459.3 645.5 L460.3 647.3 L461.3 649.1 L462.3 650.9 L463.3 652.7 L464.3 654.5 L465.3 656.3 L466.3 658.1 L467.3 659.9 L468.3 661.7 L469.3 663.4 L470.3 665.2 L471.3 667.0 L472.3 668.8 L473.3 670.5 L474.3 672.3 L475.3 674.0 L476.3 675.8 L477.3 677.5 L478.3 679.2 L479.3 680.9 L480.3 682.6 L481.3 684.3 L482.3 685.9 L483.3 687.5 L484.3 689.1 L485.3 690.7 L486.3 692.3 L487.3 693.8 L488.3 695.4 L489.3 696.8 L490.3 698.3 L491.3 699.8 L492.3 701.2 L493.3 702.6 L494.3 703.9 L495.3 705.3 L496.3 706.6 L497.3 707.8 L498.3 709.1 L499.3 710.3 L500.3 711.4 L501.3 712.6 L502.3 713.7 L503.3 714.7 L504.3 715.8 L505.3 716.8 L506.3 717.7 L507.3 718.6 L508.3 719.5 L509.3 720.4 L510.3 721.2 L511.3 721.9 L512.3 722.7 L513.3 723.4 L514.3 724.0 L515.3 724.6 L516.3 725.2 L517.3 725.7 L518.3 726.2 L519.3 726.7 L520.3 727.1 L521.3 727.5 L522.3 727.9 L523.3 728.2 L524.3 728.4 L525.3 728.7 L526.3 728.9 L527.3 729.1 L528.3 729.2 L529.3 729.3 L530.3 729.4 L531.3 729.4 L532.3 729.4 L533.3 729.4 L534.3 729.3 L535.3 729.2 L536.3 729.1 L537.3 729.0 L538.3 728.8 L539.3 728.6 L540.3 728.4 L541.3 728.1 L542.3 727.9 L543.3 727.6 L544.3 727.3 L545.3 726.9 L546.3 726.6 L547.3 726.2 L548.3 725.8 L549.3 725.4 L550.3 725.0 L551.3 724.6 L552.3 724.1 L553.3 723.7 L554.3 723.2 L555.3 722.8 L556.3 722.3 L557.3 721.8 L558.3 721.3 L559.3 720.8 L560.3 720.3 L561.3 719.8 L562.3 719.3 L563.3 718.8 L564.3 718.3 L565.3 717.7 L566.3 717.2 L567.3 716.7 L568.3 716.2 L569.3 715.7 L570.3 715.2 L571.3 714.7 L572.3 714.2 L573.3 713.8 L574.3 713.3 L575.3 712.8 L576.3 712.4 L577.3 711.9 L578.3 711.5 L579.3 711.1 L580.3 710.6 L581.3 710.2 L582.3 709.8 L583.3 709.5 L584.3 709.1 L585.3 708.7 L586.3 708.4 L587.3 708.1 L588.3 707.8 L589.3 707.5 L590.3 707.2 L591.3 706.9 L592.3 706.6 L593.3 706.4 L594.3 706.2 L595.3 706.0 L596.3 705.8 L597.3 705.6 L598.3 705.4 L599.3 705.3 L600.3 705.2 L601.3 705.0 L602.3 704.9 L603.3 704.9 L604.3 704.8 L605.3 704.7 L606.3 704.7 L607.3 704.7 L608.3 704.7 L609.3 704.7 L610.3 704.7 L611.3 704.8 L612.3 704.8 L613.3 704.9 L614.3 705.0 L615.3 705.1 L616.3 705.2 L617.3 705.3 L618.3 705.5 L619.3 705.7 L620.3 705.8 L621.3 706.0 L622.3 706.2 L623.3 706.5 L624.3 706.7 L625.3 706.9 L626.3 707.2 L627.3 707.5 L628.3 707.8 L629.3 708.1 L630.3 708.4 L631.3 708.7 L632.3 709.0 L633.3 709.4 L634.3 709.7 L635.3 710.1 L636.3 710.5 L637.3 710.9 L638.3 711.2 L639.3 711.7 L640.3 712.1 L641.3 712.5 L642.3 712.9 L643.3 713.3 L644.3 713.8 L645.3 714.2 L646.3 714.7 L647.3 715.1 L648.3 715.6 L649.3 716.1 L650.3 716.5 L651.3 717.0 L652.3 717.5 L653.3 718.0 L654.3 718.4 L655.3 718.9 L656.3 719.4 L657.3 719.9 L658.3 720.3 L659.3 720.8 L660.3 721.3 L661.3 721.7 L662.3 722.2 L663.3 722.6 L664.3 723.1 L665.3 723.5 L666.3 723.9 L667.3 724.4 L668.3 724.8 L669.3 725.2 L670.3 725.6 L671.3 725.9 L672.3 726.3 L673.3 726.6 L674.3 727.0 L675.3 727.3 L676.3 727.6 L677.3 727.8 L678.3 728.1 L679.3 728.3 L680.3 728.6 L681.3 728.8 L682.3 728.9 L683.3 729.1 L684.3 729.2 L685.3 729.3 L686.3 729.3 L687.3 729.4 L688.3 729.4 L689.3 729.4 L690.3 729.3 L691.3 729.2 L692.3 729.1 L693.3 729.0 L694.3 728.8 L695.3 728.6 L696.3 728.3 L697.3 728.0 L698.3 727.7 L699.3 727.3 L700.3 726.9 L701.3 726.5 L702.3 726.0 L703.3 725.5 L704.3 724.9 L705.3 724.3 L706.3 723.6 L707.3 722.9 L708.3 722.2 L709.3 721.4 L710.3 720.6 L711.3 719.7 L712.3 718.7 L713.3 717.8 L714.3 716.7 L715.3 715.7 L716.3 714.5 L717.3 713.4 L718.3 712.2 L719.3 710.9 L720.3 709.6 L721.3 708.2 L722.3 706.8 L723.3 705.3 L724.3 703.8 L725.3 702.2 L726.3 700.6 L727.3 698.9 L728.3 697.2 L729.3 695.4 L730.3 693.6 L731.3 691.7 L732.3 689.8 L733.3 687.8 L734.3 685.8 L735.3 683.7 L736.3 681.6 L737.3 679.4 L738.3 677.2 L739.3 674.9 L740.3 672.6 L741.3 670.2 L742.3 667.8 L743.3 665.3 L744.3 662.8 L745.3 660.2 L746.3 657.6 L747.3 654.9 L748.3 652.2 L749.3 649.5 L750.3 646.6 L751.3 643.8 L752.3 640.9 L753.3 637.9 L754.3 634.9 L755.3 631.9 L756.3 628.8 L757.3 625.6 L758.3 622.5 L759.3 619.2 L760.3 616.0 L761.3 612.7 L762.3 609.3 L763.3 605.9 L764.3 602.5 L765.3 599.0 L766.3 595.5 L767.3 591.9 L768.3 588.3 L769.3 584.6 L770.3 580.9 L771.3 577.2 L772.3 573.4 L773.3 569.6 L774.3 565.8 L775.3 561.9 L776.3 558.0 L777.3 554.1 L778.3 550.1 L779.3 546.0 L780.3 542.0 L781.3 537.9 L782.3 533.8 L783.3 529.6 L784.3 525.4 L785.3 521.2 L786.3 516.9 L787.3 512.7 L788.3 508.4 L789.3 504.0 L790.3 499.6 L791.3 495.2 L792.3 490.8 L793.3 486.4 L794.3 481.9 L795.3 477.4 L796.3 472.9 L797.3 468.3 L798.3 463.8 L799.3 459.2 L800.3 454.6 L801.3 450.0 L802.3 445.3 L803.3 440.7 L804.3 436.0 L805.3 431.3 L806.3 426.6 L807.3 421.9 L808.3 417.2 L809.3 412.5 L810.3 407.7 L811.3 403.0 L812.3 398.2 L813.3 393.5 L814.3 388.7 L815.3 383.9 L816.3 379.2 L817.3 374.4 L818.3 369.6 L819.3 364.9 L820.3 360.1 L821.3 355.3 L822.3 350.6 L823.3 345.8 L824.3 341.1 L825.3 336.4 L826.3 331.7 L827.3 327.0 L828.3 322.3 L829.3 317.6 L830.3 313.0 L831.3 308.3 L832.3 303.7 L833.3 299.1 L834.3 294.5 L835.3 290.0 L836.3 285.5 L837.3 281.0 L838.3 276.5 L839.3 272.0 L840.3 267.6 L841.3 263.2 L842.3 258.9 L843.3 254.6 L844.3 250.3 L845.3 246.0 L846.3 241.8 L847.3 237.6 L848.3 233.5 L849.3 229.4 L850.3 225.3 L851.3 221.3 L852.3 217.4 L853.3 213.4 L854.3 209.5 L855.3 205.7 L856.3 201.9 L857.3 198.2 L858.3 194.5 L859.3 190.8 L860.3 187.2 L861.3 183.7 L862.3 180.2 L863.3 176.7 L864.3 173.3 L865.3 170.0 L866.3 166.7 L867.3 163.5 L868.3 160.3 L869.3 157.2 L870.3 154.1 L871.3 151.1 L872.3 148.1 L873.3 145.2 L874.3 142.4 L875.3 139.6 L876.3 136.8 L877.3 134.1 L878.3 131.5 L879.3 128.9 L880.3 126.4 L881.3 124.0 L882.3 121.6 L883.3 119.3 L884.3 117.0 L885.3 114.8 L886.3 112.6 L887.3 110.5 L888.3 108.4 L889.3 106.5 L890.3 104.5 L891.3 102.7 L892.3 100.8 L893.3 99.1 L894.3 97.4 L895.3 95.7 L896.3 94.1 L897.3 92.6 L898.3 91.2 L899.3 89.7 L900.3 88.4 L901.3 87.1 L902.3 85.8 L903.3 84.7 L904.3 83.5 L905.3 82.5 L906.3 81.4 L907.3 80.5 L908.3 79.6 L909.3 78.7 L910.3 78.0 L911.3 77.2 L912.3 76.6 L913.3 75.9 L914.3 75.4 L915.3 74.9 L916.3 74.4 L917.3 74.0 L918.3 73.7 L919.3 73.4 L920.3 73.2 L921.3 73.0 L922.3 72.9 L923.3 72.8 L924.3 72.8 L925.3 72.9 L926.3 73.0 L927.3 73.2 L928.3 73.4 L929.3 73.7 L930.3 74.0 L931.3 74.4 L932.3 74.8 L933.3 75.3 L934.3 75.9 L935.3 76.5 L936.3 77.1 L937.3 77.9 L938.3 78.6 L939.3 79.5 L940.3 80.4 L941.3 81.3 L942.3 82.3 L943.3 83.3 L944.3 84.4 L945.3 85.6 L946.3 86.8 L947.3 88.1 L948.3 89.4 L949.3 90.8 L950.3 92.2 L951.3 93.7 L952.3 95.3 L953.3 96.9 L954.3 98.5 L955.3 100.2 L956.3 102.0 L957.3 103.8 L958.3 105.6 L959.3 107.5 L960.3 109.5 L961.3 111.5 L962.3 113.6 L963.3 115.7 L964.3 117.9 L965.3 120.1 L966.3 122.3 L967.3 124.6 L968.3 127.0 L969.3 129.4 L970.3 131.9 L971.3 134.4 L972.3 136.9 L972.8 138.2" stroke="#0b68a6"/>
<path d="M89.3 481.4 L90.3 477.7 L91.3 474.0 L92.3 470.4 L93.3 466.7 L94.3 463.0 L95.3 459.4 L96.3 455.7 L97.3 452.1 L98.3 448.4 L99.3 444.8 L100.3 441.1 L101.3 437.5 L102.3 433.9 L103.3 430.3 L104.3 426.7 L105.3 423.1 L106.3 419.5 L107.3 415.9 L108.3 412.3 L109.3 408.8 L110.3 405.3 L111.3 401.7 L112.3 398.2 L113.3 394.7 L114.3 391.2 L115.3 387.8 L116.3 384.3 L117.3 380.9 L118.3 377.5 L119.3 374.1 L120.3 370.7 L121.3 367.3 L122.3 364.0 L123.3 360.6 L124.3 357.3 L125.3 354.0 L126.3 350.8 L127.3 347.5 L128.3 344.3 L129.3 341.1 L130.3 337.9 L131.3 334.7 L132.3 331.6 L133.3 328.5 L134.3 325.4 L135.3 322.3 L136.3 319.3 L137.3 316.3 L138.3 313.3 L139.3 310.3 L140.3 307.3 L141.3 304.4 L142.3 301.5 L143.3 298.6 L144.3 295.8 L145.3 293.0 L146.3 290.2 L147.3 287.4 L148.3 284.7 L149.3 281.9 L150.3 279.2 L151.3 276.6 L152.3 273.9 L153.3 271.3 L154.3 268.7 L155.3 266.1 L156.3 263.6 L157.3 261.1 L158.3 258.6 L159.3 256.2 L160.3 253.7 L161.3 251.3 L162.3 248.9 L163.3 246.6 L164.3 244.3 L165.3 242.0 L166.3 239.7 L167.3 237.4 L168.3 235.2 L169.3 233.0 L170.3 230.9 L171.3 228.7 L172.3 226.6 L173.3 224.5 L174.3 222.5 L175.3 220.5 L176.3 218.5 L177.3 216.5 L178.3 214.5 L179.3 212.6 L180.3 210.7 L181.3 208.9 L182.3 207.0 L183.3 205.2 L184.3 203.4 L185.3 201.7 L186.3 200.0 L187.3 198.3 L188.3 196.6 L189.3 194.9 L190.3 193.3 L191.3 191.7 L192.3 190.2 L193.3 188.7 L194.3 187.1 L195.3 185.7 L196.3 184.2 L197.3 182.8 L198.3 181.4 L199.3 180.0 L200.3 178.7 L201.3 177.4 L202.3 176.1 L203.3 174.9 L204.3 173.7 L205.3 172.5 L206.3 171.3 L207.3 170.2 L208.3 169.1 L209.3 168.0 L210.3 166.9 L211.3 165.9 L212.3 164.9 L213.3 164.0 L214.3 163.0 L215.3 162.1 L216.3 161.3 L217.3 160.4 L218.3 159.6 L219.3 158.8 L220.3 158.1 L221.3 157.4 L222.3 156.7 L223.3 156.0 L224.3 155.4 L225.3 154.8 L226.3 154.2 L227.3 153.7 L228.3 153.2 L229.3 152.7 L230.3 152.3 L231.3 151.9 L232.3 151.5 L233.3 151.2 L234.3 150.9 L235.3 150.6 L236.3 150.3 L237.3 150.1 L238.3 149.9 L239.3 149.8 L240.3 149.7 L241.3 149.6 L242.3 149.5 L243.3 149.5 L244.3 149.5 L245.3 149.5 L246.3 149.6 L247.3 149.7 L248.3 149.9 L249.3 150.1 L250.3 150.3 L251.3 150.5 L252.3 150.8 L253.3 151.1 L254.3 151.4 L255.3 151.8 L256.3 152.2 L257.3 152.7 L258.3 153.2 L259.3 153.7 L260.3 154.2 L261.3 154.8 L262.3 155.4 L263.3 156.1 L264.3 156.8 L265.3 157.5 L266.3 158.2 L267.3 159.0 L268.3 159.9 L269.3 160.7 L270.3 161.6 L271.3 162.5 L272.3 163.5 L273.3 164.5 L274.3 165.5 L275.3 166.6 L276.3 167.7 L277.3 168.8 L278.3 170.0 L279.3 171.2 L280.3 172.4 L281.3 173.7 L282.3 175.0 L283.3 176.3 L284.3 177.7 L285.3 179.1 L286.3 180.6 L287.3 182.0 L288.3 183.6 L289.3 185.1 L290.3 186.7 L291.3 188.3 L292.3 189.9 L293.3 191.6 L294.3 193.3 L295.3 195.1 L296.3 196.9 L297.3 198.7 L298.3 200.5 L299.3 202.4 L300.3 204.3 L301.3 206.3 L302.3 208.2 L303.3 210.2 L304.3 212.3 L305.3 214.4 L306.3 216.5 L307.3 218.6 L308.3 220.8 L309.3 223.0 L310.3 225.2 L311.3 227.4 L312.3 229.7 L313.3 232.0 L314.3 234.4 L315.3 236.8 L316.3 239.2 L317.3 241.6 L318.3 244.1 L319.3 246.6 L320.3 249.1 L321.3 251.6 L322.3 254.2 L323.3 256.8 L324.3 259.4 L325.3 262.1 L326.3 264.7 L327.3 267.4 L328.3 270.2 L329.3 272.9 L330.3 275.7 L331.3 278.5 L332.3 281.3 L333.3 284.1 L334.3 287.0 L335.3 289.9 L336.3 292.8 L337.3 295.7 L338.3 298.7 L339.3 301.6 L340.3 304.6 L341.3 307.6 L342.3 310.6 L343.3 313.6 L344.3 316.7 L345.3 319.7 L346.3 322.8 L347.3 325.9 L348.3 329.0 L349.3 332.1 L350.3 335.3 L351.3 338.4 L352.3 341.6 L353.3 344.7 L354.3 347.9 L355.3 351.1 L356.3 354.3 L357.3 357.5 L358.3 360.7 L359.3 363.9 L360.3 367.1 L361.3 370.3 L362.3 373.5 L363.3 376.8 L364.3 380.0 L365.3 383.2 L366.3 386.5 L367.3 389.7 L368.3 392.9 L369.3 396.2 L370.3 399.4 L371.3 402.6 L372.3 405.8 L373.3 409.1 L374.3 412.3 L375.3 415.5 L376.3 418.7 L377.3 421.9 L378.3 425.1 L379.3 428.3 L380.3 431.4 L381.3 434.6 L382.3 437.7 L383.3 440.9 L384.3 444.0 L385.3 447.2 L386.3 450.3 L387.3 453.4 L388.3 456.4 L389.3 459.5 L390.3 462.6 L391.3 465.6 L392.3 468.6 L393.3 471.6 L394.3 474.6 L395.3 477.6 L396.3 480.6 L397.3 483.5 L398.3 486.4 L399.3 489.3 L400.3 492.2 L401.3 495.1 L402.3 497.9 L403.3 500.7 L404.3 503.5 L405.3 506.3 L406.3 509.0 L407.3 511.8 L408.3 514.5 L409.3 517.2 L410.3 519.8 L411.3 522.5 L412.3 525.1 L413.3 527.7 L414.3 530.3 L415.3 532.8 L416.3 535.3 L417.3 537.8 L418.3 540.3 L419.3 542.7 L420.3 545.1 L421.3 547.5 L422.3 549.9 L423.3 552.3 L424.3 554.6 L425.3 556.9 L426.3 559.1 L427.3 561.4 L428.3 563.6 L429.3 565.8 L430.3 567.9 L431.3 570.1 L432.3 572.2 L433.3 574.3 L434.3 576.3 L435.3 578.4 L436.3 580.4 L437.3 582.4 L438.3 584.3 L439.3 586.3 L440.3 588.2 L441.3 590.0 L442.3 591.9 L443.3 593.7 L444.3 595.5 L445.3 597.3 L446.3 599.1 L447.3 600.8 L448.3 602.5 L449.3 604.2 L450.3 605.9 L451.3 607.5 L452.3 609.1 L453.3 610.7 L454.3 612.3 L455.3 613.8 L456.3 615.3 L457.3 616.8 L458.3 618.3 L459.3 619.8 L460.3 621.2 L461.3 622.6 L462.3 624.0 L463.3 625.4 L464.3 626.7 L465.3 628.0 L466.3 629.3 L467.3 630.6 L468.3 631.9 L469.3 633.1 L470.3 634.4 L471.3 635.6 L472.3 636.7 L473.3 637.9 L474.3 639.1 L475.3 640.2 L476.3 641.3 L477.3 642.4 L478.3 643.4 L479.3 644.5 L480.3 645.5 L481.3 646.5 L482.3 647.5 L483.3 648.5 L484.3 649.5 L485.3 650.4 L486.3 651.4 L487.3 652.3 L488.3 653.2 L489.3 654.1 L490.3 654.9 L491.3 655.8 L492.3 656.6 L493.3 657.4 L494.3 658.2 L495.3 659.0 L496.3 659.8 L497.3 660.6 L498.3 661.3 L499.3 662.0 L500.3 662.7 L501.3 663.4 L502.3 664.1 L503.3 664.8 L504.3 665.5 L505.3 666.1 L506.3 666.7 L507.3 667.3 L508.3 667.9 L509.3 668.5 L510.3 669.1 L511.3 669.7 L512.3 670.2 L513.3 670.8 L514.3 671.3 L515.3 671.8 L516.3 672.3 L517.3 672.8 L518.3 673.2 L519.3 673.7 L520.3 674.2 L521.3 674.6 L522.3 675.0 L523.3 675.4 L524.3 675.8 L525.3 676.2 L526.3 676.6 L527.3 677.0 L528.3 677.3 L529.3 677.6 L530.3 678.0 L531.3 678.3 L532.3 678.6 L533.3 678.9 L534.3 679.2 L535.3 679.5 L536.3 679.7 L537.3 680.0 L538.3 680.2 L539.3 680.4 L540.3 680.7 L541.3 680.9 L542.3 681.1 L543.3 681.2 L544.3 681.4 L545.3 681.6 L546.3 681.7 L547.3 681.9 L548.3 682.0 L549.3 682.1 L550.3 682.2 L551.3 682.3 L552.3 682.4 L553.3 682.5 L554.3 682.6 L555.3 682.7 L556.3 682.7 L557.3 682.7 L558.3 682.8 L559.3 682.8 L560.3 682.8 L561.3 682.8 L562.3 682.8 L563.3 682.8 L564.3 682.7 L565.3 682.7 L566.3 682.7 L567.3 682.6 L568.3 682.5 L569.3 682.5 L570.3 682.4 L571.3 682.3 L572.3 682.2 L573.3 682.1 L574.3 681.9 L575.3 681.8 L576.3 681.7 L577.3 681.5 L578.3 681.4 L579.3 681.2 L580.3 681.0 L581.3 680.8 L582.3 680.6 L583.3 680.4 L584.3 680.2 L585.3 680.0 L586.3 679.8 L587.3 679.6 L588.3 679.3 L589.3 679.1 L590.3 678.8 L591.3 678.6 L592.3 678.3 L593.3 678.0 L594.3 677.7 L595.3 677.4 L596.3 677.1 L597.3 676.8 L598.3 676.5 L599.3 676.2 L600.3 675.9 L601.3 675.6 L602.3 675.2 L603.3 674.9 L604.3 674.5 L605.3 674.2 L606.3 673.8 L607.3 673.5 L608.3 673.1 L609.3 672.7 L610.3 672.4 L611.3 672.0 L612.3 671.6 L613.3 671.2 L614.3 670.8 L615.3 670.4 L616.3 670.1 L617.3 669.7 L618.3 669.3 L619.3 668.9 L620.3 668.4 L621.3 668.0 L622.3 667.6 L623.3 667.2 L624.3 666.8 L625.3 666.4 L626.3 666.0 L627.3 665.6 L628.3 665.1 L629.3 664.7 L630.3 664.3 L631.3 663.9 L632.3 663.5 L633.3 663.1 L634.3 662.6 L635.3 662.2 L636.3 661.8 L637.3 661.4 L638.3 661.0 L639.3 660.6 L640.3 660.2 L641.3 659.8 L642.3 659.3 L643.3 658.9 L644.3 658.5 L645.3 658.2 L646.3 657.8 L647.3 657.4 L648.3 657.0 L649.3 656.6 L650.3 656.2 L651.3 655.8 L652.3 655.5 L653.3 655.1 L654.3 654.7 L655.3 654.4 L656.3 654.0 L657.3 653.7 L658.3 653.3 L659.3 653.0 L660.3 652.7 L661.3 652.3 L662.3 652.0 L663.3 651.7 L664.3 651.4 L665.3 651.1 L666.3 650.8 L667.3 650.5 L668.3 650.2 L669.3 649.9 L670.3 649.7 L671.3 649.4 L672.3 649.1 L673.3 648.9 L674.3 648.6 L675.3 648.4 L676.3 648.2 L677.3 647.9 L678.3 647.7 L679.3 647.5 L680.3 647.3 L681.3 647.1 L682.3 646.9 L683.3 646.7 L684.3 646.6 L685.3 646.4 L686.3 646.2 L687.3 646.1 L688.3 645.9 L689.3 645.8 L690.3 645.7 L691.3 645.6 L692.3 645.5 L693.3 645.4 L694.3 645.3 L695.3 645.2 L696.3 645.1 L697.3 645.0 L698.3 645.0 L699.3 644.9 L700.3 644.9 L701.3 644.8 L702.3 644.8 L703.3 644.8 L704.3 644.8 L705.3 644.8 L706.3 644.8 L707.3 644.8 L708.3 644.9 L709.3 644.9 L710.3 644.9 L711.3 645.0 L712.3 645.1 L713.3 645.1 L714.3 645.2 L715.3 645.3 L716.3 645.4 L717.3 645.5 L718.3 645.7 L719.3 645.8 L720.3 645.9 L721.3 646.1 L722.3 646.3 L723.3 646.4 L724.3 646.6 L725.3 646.8 L726.3 647.0 L727.3 647.3 L728.3 647.5 L729.3 647.7 L730.3 648.0 L731.3 648.2 L732.3 648.5 L733.3 648.8 L734.3 649.1 L735.3 649.4 L736.3 649.7 L737.3 650.0 L738.3 650.4 L739.3 650.7 L740.3 651.1 L741.3 651.5 L742.3 651.9 L743.3 652.3 L744.3 652.7 L745.3 653.1 L746.3 653.5 L747.3 654.0 L748.3 654.5 L749.3 654.9 L750.3 655.4 L751.3 655.9 L752.3 656.4 L753.3 656.9 L754.3 657.5 L755.3 658.0 L756.3 658.6 L757.3 659.2 L758.3 659.7 L759.3 660.3 L760.3 660.9 L761.3 661.6 L762.3 662.2 L763.3 662.8 L764.3 663.5 L765.3 664.2 L766.3 664.8 L767.3 665.5 L768.3 666.2 L769.3 666.9 L770.3 667.7 L771.3 668.4 L772.3 669.2 L773.3 669.9 L774.3 670.7 L775.3 671.5 L776.3 672.2 L777.3 673.0 L778.3 673.8 L779.3 674.7 L780.3 675.5 L781.3 676.3 L782.3 677.2 L783.3 678.0 L784.3 678.9 L785.3 679.7 L786.3 680.6 L787.3 681.5 L788.3 682.4 L789.3 683.2 L790.3 684.1 L791.3 685.0 L792.3 685.9 L793.3 686.9 L794.3 687.8 L795.3 688.7 L796.3 689.6 L797.3 690.5 L798.3 691.5 L799.3 692.4 L800.3 693.3 L801.3 694.2 L802.3 695.2 L803.3 696.1 L804.3 697.0 L805.3 698.0 L806.3 698.9 L807.3 699.8 L808.3 700.7 L809.3 701.6 L810.3 702.6 L811.3 703.5 L812.3 704.4 L813.3 705.3 L814.3 706.1 L815.3 707.0 L816.3 707.9 L817.3 708.8 L818.3 709.6 L819.3 710.5 L820.3 711.3 L821.3 712.1 L822.3 713.0 L823.3 713.8 L824.3 714.5 L825.3 715.3 L826.3 716.1 L827.3 716.8 L828.3 717.6 L829.3 718.3 L830.3 719.0 L831.3 719.7 L832.3 720.3 L833.3 721.0 L834.3 721.6 L835.3 722.2 L836.3 722.8 L837.3 723.4 L838.3 723.9 L839.3 724.4 L840.3 724.9 L841.3 725.4 L842.3 725.9 L843.3 726.3 L844.3 726.7 L845.3 727.1 L846.3 727.4 L847.3 727.8 L848.3 728.0 L849.3 728.3 L850.3 728.6 L851.3 728.8 L852.3 729.0 L853.3 729.1 L854.3 729.2 L855.3 729.3 L856.3 729.4 L857.3 729.4 L858.3 729.4 L859.3 729.4 L860.3 729.3 L861.3 729.2 L862.3 729.0 L863.3 728.8 L864.3 728.6 L865.3 728.4 L866.3 728.1 L867.3 727.8 L868.3 727.4 L869.3 727.0 L870.3 726.6 L871.3 726.1 L872.3 725.6 L873.3 725.1 L874.3 724.5 L875.3 723.8 L876.3 723.2 L877.3 722.5 L878.3 721.7 L879.3 720.9 L880.3 720.1 L881.3 719.2 L882.3 718.3 L883.3 717.4 L884.3 716.4 L885.3 715.3 L886.3 714.2 L887.3 713.1 L888.3 712.0 L889.3 710.8 L890.3 709.5 L891.3 708.2 L892.3 706.9 L893.3 705.5 L894.3 704.1 L895.3 702.6 L896.3 701.1 L897.3 699.6 L898.3 698.0 L899.3 696.3 L900.3 694.7 L901.3 692.9 L902.3 691.2 L903.3 689.4 L904.3 687.5 L905.3 685.6 L906.3 683.7 L907.3 681.7 L908.3 679.7 L909.3 677.6 L910.3 675.5 L911.3 673.4 L912.3 671.2 L913.3 669.0 L914.3 666.7 L915.3 664.4 L916.3 662.1 L917.3 659.7 L918.3 657.3 L919.3 654.8 L920.3 652.3 L921.3 649.8 L922.3 647.2 L923.3 644.6 L924.3 641.9 L925.3 639.2 L926.3 636.5 L927.3 633.8 L928.3 631.0 L929.3 628.1 L930.3 625.3 L931.3 622.4 L932.3 619.5 L933.3 616.5 L934.3 613.5 L935.3 610.5 L936.3 607.4 L937.3 604.3 L938.3 601.2 L939.3 598.1 L940.3 594.9 L941.3 591.7 L942.3 588.5 L943.3 585.2 L944.3 582.0 L945.3 578.7 L946.3 575.3 L947.3 572.0 L948.3 568.6 L949.3 565.2 L950.3 561.8 L951.3 558.4 L952.3 554.9 L953.3 551.5 L954.3 548.0 L955.3 544.5 L956.3 541.0 L957.3 537.4 L958.3 533.9 L959.3 530.3 L960.3 526.8 L961.3 523.2 L962.3 519.6 L963.3 516.0 L964.3 512.4 L965.3 508.7 L966.3 505.1 L967.3 501.5 L968.3 497.8 L969.3 494.2 L970.3 490.5 L971.3 486.9 L972.3 483.2 L972.8 481.4" stroke="#cd5524"/>
</g>
<g fill="none">
<path d="M89.3 12.7 H973.8 M89.3 729.7 H973.8" stroke="#606060" stroke-width="2"/>
<path d="M972.8 12.7 V729.7" stroke="#5a5a5a" stroke-width="2"/>
<path d="M89.3 729.7 v-9 M89.3 12.7 v9 M187.5 729.7 v-9 M187.5 12.7 v9 M285.6 729.7 v-9 M285.6 12.7 v9 M383.8 729.7 v-9 M383.8 12.7 v9 M482.0 729.7 v-9 M482.0 12.7 v9 M580.1 729.7 v-9 M580.1 12.7 v9 M678.3 729.7 v-9 M678.3 12.7 v9 M776.5 729.7 v-9 M776.5 12.7 v9 M874.6 729.7 v-9 M874.6 12.7 v9 M972.8 729.7 v-9 M972.8 12.7 v9 M89.3 729.4 h9 M972.8 729.4 h-9 M89.3 627.0 h9 M972.8 627.0 h-9 M89.3 524.7 h9 M972.8 524.7 h-9 M89.3 422.3 h9 M972.8 422.3 h-9 M89.3 320.0 h9 M972.8 320.0 h-9 M89.3 217.6 h9 M972.8 217.6 h-9 M89.3 115.3 h9 M972.8 115.3 h-9 M89.3 12.9 h9 M972.8 12.9 h-9" stroke="#4a4a4a" stroke-width="1.5"/>
</g>
<g font-family="Liberation Serif, serif" font-size="33" fill="#151515">
<text transform="translate(89.3 774.0) scale(0.96 1.08)" text-anchor="middle">0</text>
<text transform="translate(187.5 774.0) scale(0.96 1.08)" text-anchor="middle">20</text>
<text transform="translate(285.6 774.0) scale(0.96 1.08)" text-anchor="middle">40</text>
<text transform="translate(383.8 774.0) scale(0.96 1.08)" text-anchor="middle">60</text>
<text transform="translate(482.0 774.0) scale(0.96 1.08)" text-anchor="middle">80</text>
<text transform="translate(580.1 774.0) scale(0.96 1.08)" text-anchor="middle">100</text>
<text transform="translate(678.3 774.0) scale(0.96 1.08)" text-anchor="middle">120</text>
<text transform="translate(776.5 774.0) scale(0.96 1.08)" text-anchor="middle">140</text>
<text transform="translate(874.6 774.0) scale(0.96 1.08)" text-anchor="middle">160</text>
<text transform="translate(972.8 774.0) scale(0.96 1.08)" text-anchor="middle">180</text>
<text transform="translate(76.5 741.6) scale(0.96 1.08)" text-anchor="end">0</text>
<text transform="translate(76.5 639.2) scale(0.96 1.08)" text-anchor="end">5</text>
<text transform="translate(76.5 536.9) scale(0.96 1.08)" text-anchor="end">10</text>
<text transform="translate(76.5 434.5) scale(0.96 1.08)" text-anchor="end">15</text>
<text transform="translate(76.5 332.2) scale(0.96 1.08)" text-anchor="end">20</text>
<text transform="translate(76.5 229.8) scale(0.96 1.08)" text-anchor="end">25</text>
<text transform="translate(76.5 127.5) scale(0.96 1.08)" text-anchor="end">30</text>
<text transform="translate(76.5 25.1) scale(0.96 1.08)" text-anchor="end">35</text>
</g>
<g font-family="Liberation Serif, serif" font-size="38" fill="#1a1a1a" transform="translate(0 825.6) scale(1 1.07)"><text x="372.3" y="0">Rotated</text><text x="496.3" y="0">Angle</text><text x="613" y="0" font-style="italic">&#945;</text><text x="645.6" y="0">(&#176;)</text></g>
<text font-family="Liberation Serif, serif" font-size="39.5" transform="translate(28 567.3) rotate(-90)" fill="#1a1a1a">Coupling Coefficient(%)</text>
<path d="M89.3 93 H245.7 V12.7" fill="none" stroke="#c4c4c4" stroke-width="1.6"/>
<rect x="90.5" y="14" width="154.4" height="78.2" fill="#fff"/>
<path d="M89.3 729.7 V12.7" stroke="#333" stroke-width="1.5" fill="none"/>
<path d="M97.7 34.7 H178.5" stroke="#0b68a6" stroke-width="3"/>
<path d="M97.7 70.8 H178.5" stroke="#cd5524" stroke-width="3"/>
<g font-family="Liberation Serif, serif" font-size="30.5" fill="#111">
<text transform="translate(185.3 46) scale(0.95 1.02)">SH0</text><text transform="translate(185.3 82) scale(0.95 1.02)">S0</text>
</g>
<g font-family="Liberation Serif, serif" font-size="37" fill="#111">
<text x="403" y="156">SH0</text><text x="415.5" y="360.8">S0</text>
</g>
</svg>
</body></html>
